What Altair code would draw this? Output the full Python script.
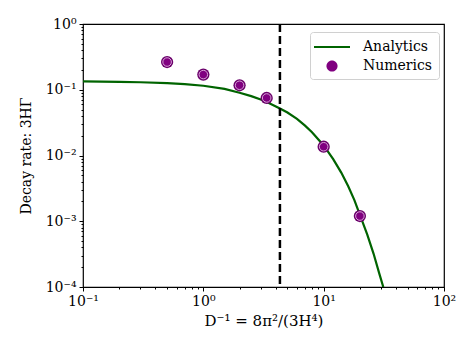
import math
import altair as alt
import pandas as pd

# ---------------- data ----------------
curve_x = [0.1, 0.2, 0.3, 0.5, 0.7, 1.0, 1.5, 2.0, 2.5, 3.0, 3.5, 4.33, 5.0, 6.0,
           7.0, 8.0, 10.0, 12.0, 14.0, 16.0, 18.0, 20.0, 23.0, 26.0, 29.0, 31.3]
curve_y = [0.134, 0.132, 0.130, 0.126, 0.122, 0.115, 0.103, 0.090, 0.080, 0.071,
           0.063, 0.052, 0.045, 0.036, 0.0285, 0.0226, 0.0142, 0.0088, 0.0055,
           0.0034, 0.0021, 0.00125, 0.00063, 0.00032, 0.00016, 0.0001]

num_x = [0.5, 1.0, 2.0, 3.36, 10.0, 20.0]
num_y = [0.264, 0.17, 0.117, 0.075, 0.0136, 0.0012]

threshold_x = [4.33]

series_names = ["Analytics", "Numerics"]

x_major = [0.1, 1, 10, 100]
x_labels = ["10⁻¹", "10⁰", "10¹", "10²"]
y_major = [1e-4, 1e-3, 1e-2, 1e-1, 1]
y_labels = ["10⁻⁴", "10⁻³", "10⁻²", "10⁻¹", "10⁰"]
x_minor = [m * 10 ** e for e in (-1, 0, 1) for m in range(2, 10)]
y_minor = [m * 10 ** e for e in (-4, -3, -2, -1) for m in range(2, 10)]

# ---------------- tables ----------------
curve_df = pd.DataFrame({"x": curve_x, "y": curve_y, "series": series_names[0]})
num_df = pd.DataFrame({"x": num_x, "y": num_y, "series": series_names[1]})
rule_df = pd.DataFrame({"x": threshold_x})


def label_expr(values, labels):
    parts = [f"round(log(datum.value)/LN10)=={round(math.log10(v))} ? '{lab}'"
             for v, lab in zip(values, labels)]
    return " : ".join(parts) + " : ''"


FONT = "DejaVu Serif"
GREEN = "#006400"
PURPLE = "#800080"

xscale = alt.Scale(type="log", domain=[0.1, 100], nice=False)
yscale = alt.Scale(type="log", domain=[1e-4, 1], nice=False)

x_main_axis = alt.Axis(orient="bottom", values=x_major, labelExpr=label_expr(x_major, x_labels),
                       title="D⁻¹ = 8π²/(3H⁴)", titleFontSize=15, tickSize=4, labelPadding=3,
                       titlePadding=5, grid=False, domain=False, labelFlush=False,
                       labelOverlap=False)
y_main_axis = alt.Axis(orient="left", values=y_major, labelExpr=label_expr(y_major, y_labels),
                       title="Decay rate: 3HΓ", titleFontSize=14, tickSize=4, labelPadding=3,
                       titlePadding=12, grid=False, domain=False, labelFlush=False,
                       labelOverlap=False)
x_minor_axis = alt.Axis(orient="bottom", values=x_minor, labels=False, tickSize=2,
                        title=None, grid=False, domain=False)
y_minor_axis = alt.Axis(orient="left", values=y_minor, labels=False, tickSize=2,
                        title=None, grid=False, domain=False)

rect_path = "M-2,-0.11L2,-0.11L2,0.11L-2,0.11Z"
circ_path = "M-0.62,0A0.62,0.62,0,1,0,0.62,0A0.62,0.62,0,1,0,-0.62,0Z"

legend_style = dict(title=None, orient="none", legendX=227, legendY=8,
                    symbolSize=324, symbolOffset=7, labelOffset=22,
                    rowPadding=3, padding=6, symbolStrokeWidth=0,
                    strokeColor="#d0d0d0", fillColor="white",
                    cornerRadius=3, labelFont=FONT, labelFontSize=14,
                    labelColor="black", symbolOpacity=1)

line = alt.Chart(curve_df).mark_line(color=GREEN, strokeWidth=2.2, clip=True).encode(
    x=alt.X("x:Q", scale=xscale, axis=x_main_axis),
    y=alt.Y("y:Q", scale=yscale, axis=y_main_axis),
)

rule = alt.Chart(rule_df).mark_rule(color="black", strokeWidth=2.5, strokeDash=[8, 4]).encode(
    x=alt.X("x:Q", scale=xscale, axis=None),
)

outer = alt.Chart(num_df).mark_point(filled=True, shape="circle", size=150, color="#6a006a",
                                     opacity=1).encode(
    x=alt.X("x:Q", scale=xscale, axis=x_minor_axis),
    y=alt.Y("y:Q", scale=yscale, axis=y_minor_axis),
)

inner = alt.Chart(num_df).mark_point(filled=True, size=190, stroke="#d9a3d9",
                                     strokeWidth=1, opacity=1).encode(
    x=alt.X("x:Q", scale=xscale, axis=None),
    y=alt.Y("y:Q", scale=yscale, axis=None),
    color=alt.Color("series:N", scale=alt.Scale(domain=series_names, range=[GREEN, PURPLE]),
                    legend=alt.Legend(**legend_style)),
    shape=alt.Shape("series:N", scale=alt.Scale(domain=series_names, range=[rect_path, circ_path]),
                    legend=alt.Legend(**legend_style)),
)

chart = alt.layer(line, rule, outer, inner).resolve_axis(
    x="independent", y="independent"
).properties(
    width=361, height=263,
    background="white",
    autosize=alt.AutoSizeParams(type="none"),
    padding={"left": 83, "top": 24, "right": 30, "bottom": 69},
).configure(
    font=FONT,
    style={"guide-label": {"font": FONT}, "guide-title": {"font": FONT}},
).configure_view(
    stroke="black", strokeWidth=1.2
).configure_axis(
    labelFont=FONT, labelFontSize=14, labelColor="black",
    titleFont=FONT, titleFontWeight="normal", titleColor="black",
    tickColor="black", tickWidth=1,
).configure_legend(
    labelFont=FONT, labelFontSize=14, labelColor="black",
)

chart.save("out.html", embed_options={"renderer": "svg", "actions": False})
